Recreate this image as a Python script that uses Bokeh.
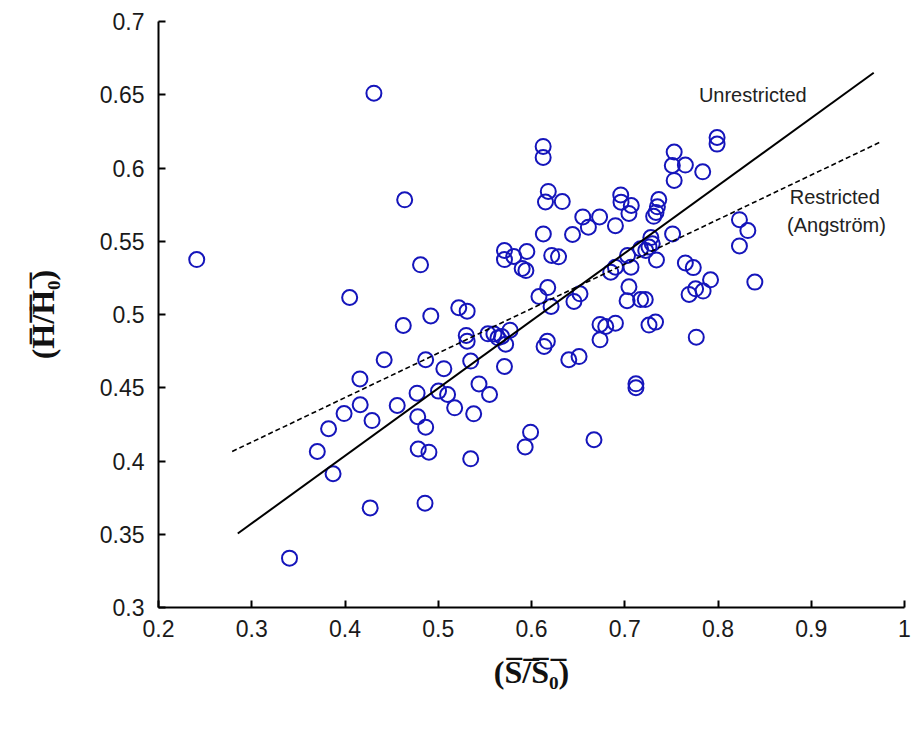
from bokeh.plotting import figure
from bokeh.models import FixedTicker, Range1d
from bokeh.core.properties import value
from bokeh.embed import file_html
from bokeh.resources import INLINE

# Monthly relative sunshine duration (S/S0) vs clearness index (H/H0)
s_vals = [
    0.241, 0.431, 0.464, 0.481, 0.405, 0.492, 0.522, 0.531, 0.4625,
    0.571, 0.571, 0.581, 0.595, 0.590, 0.594,
    0.6125, 0.6125, 0.618, 0.615, 0.633, 0.6127, 0.644, 0.655, 0.661,
    0.673, 0.690, 0.6957, 0.696, 0.707, 0.7045,
    0.7365, 0.735, 0.7335, 0.731,
    0.753, 0.751, 0.765, 0.753, 0.7836, 0.799, 0.799, 0.7513,
    0.823, 0.832, 0.823, 0.8395,
    0.728, 0.7295, 0.726, 0.734, 0.765, 0.7735, 0.703, 0.7067, 0.690, 0.685,
    0.717, 0.7225, 0.6217, 0.629, 0.6174, 0.608, 0.621, 0.652, 0.6455,
    0.7045, 0.7025, 0.717, 0.722, 0.792, 0.776, 0.784, 0.769,
    0.6735, 0.6796, 0.690, 0.6735, 0.726, 0.733, 0.7767,
    0.617, 0.6135, 0.640, 0.651, 0.712, 0.712, 0.667,
    0.530, 0.531, 0.5533, 0.5597, 0.564, 0.568, 0.5723, 0.577, 0.571,
    0.5348, 0.506, 0.4865, 0.442, 0.416, 0.4773, 0.5003, 0.510, 0.5437,
    0.555, 0.5176, 0.538, 0.456, 0.4163, 0.399, 0.429, 0.478, 0.4865,
    0.3824, 0.599, 0.5932, 0.4785, 0.490, 0.5348, 0.3703, 0.3872, 0.427,
    0.4858, 0.3405,
]
h_vals = [
    0.5375, 0.6511, 0.5783, 0.5339, 0.5116, 0.4990, 0.5046, 0.5023, 0.4925,
    0.5437, 0.5375, 0.5396, 0.5430, 0.5314, 0.5300,
    0.6147, 0.6072, 0.5840, 0.5768, 0.5771, 0.5550, 0.5546, 0.5666, 0.5596,
    0.5666, 0.5606, 0.5816, 0.5767, 0.5744, 0.5690,
    0.5785, 0.5735, 0.5697, 0.5670,
    0.6109, 0.6017, 0.6020, 0.5915, 0.5974, 0.6208, 0.6163, 0.5550,
    0.5647, 0.5573, 0.5468, 0.5221,
    0.5525, 0.5483, 0.5460, 0.5372, 0.5352, 0.5320, 0.5403, 0.5323, 0.5323, 0.5289,
    0.5448, 0.5437, 0.5403, 0.5394, 0.5184, 0.5123, 0.5055, 0.5141, 0.5089,
    0.5189, 0.5094, 0.5102, 0.5102, 0.5237, 0.5175, 0.5160, 0.5137,
    0.4932, 0.4918, 0.4941, 0.4827, 0.4928, 0.4948, 0.4845,
    0.4817, 0.4782, 0.4691, 0.4713, 0.4527, 0.4500, 0.4145,
    0.4857, 0.4818, 0.4868, 0.4867, 0.4841, 0.4850, 0.4797, 0.4893, 0.4645,
    0.4682, 0.4630, 0.4691, 0.4691, 0.4560, 0.4463, 0.4477, 0.4454, 0.4526,
    0.4454, 0.4363, 0.4322, 0.4379, 0.4384, 0.4324, 0.4276, 0.4302, 0.4231,
    0.4220, 0.4197, 0.4096, 0.4082, 0.4060, 0.4015, 0.4065, 0.3913, 0.3680,
    0.3712, 0.3337,
]

# Fitted regression lines (end points)
unrestricted_x = [0.285, 0.967]
unrestricted_y = [0.3505, 0.665]
restricted_x = [0.279, 0.975]
restricted_y = [0.4065, 0.618]

x_ticks = [0.2, 0.3, 0.4, 0.5, 0.6, 0.7, 0.8, 0.9, 1.0]
x_tick_labels = ["0.2", "0.3", "0.4", "0.5", "0.6", "0.7", "0.8", "0.9", "1"]
y_ticks = [0.3, 0.35, 0.4, 0.45, 0.5, 0.55, 0.6, 0.65, 0.7]
y_tick_labels = ["0.3", "0.35", "0.4", "0.45", "0.5", "0.55", "0.6", "0.65", "0.7"]

p = figure(
    frame_width=746, frame_height=586,
    min_border_left=158, min_border_right=18,
    min_border_top=21, min_border_bottom=124,
    x_range=Range1d(0.2, 1.0), y_range=Range1d(0.3, 0.7),
    output_backend="svg", toolbar_location=None,
)
p.outline_line_color = None
p.xgrid.visible = False
p.ygrid.visible = False
p.background_fill_color = "white"
p.border_fill_color = "white"

p.scatter(s_vals, h_vals, marker="circle", size=15, fill_color=None,
          line_color="#1515bb", line_width=2)

p.line(unrestricted_x, unrestricted_y, line_color="black", line_width=2)
p.line(restricted_x, restricted_y, line_color="black", line_width=1.6,
       line_dash="5 3")

p.text(x=[0.7795], y=[0.6495], text=["Unrestricted"],
       text_font=value("Liberation Sans"), text_font_size="20px",
       text_color="#222222", text_baseline="middle", text_align="left")
p.text(x=[0.877, 0.874], y=[0.5805, 0.5614], text=["Restricted", "(Angström)"],
       text_font=value("Liberation Sans"), text_font_size="20px",
       text_color="#222222", text_baseline="middle", text_align="left")

for ax, ticks, labels in ((p.xaxis[0], x_ticks, x_tick_labels),
                          (p.yaxis[0], y_ticks, y_tick_labels)):
    ax.ticker = FixedTicker(ticks=ticks)
    ax.major_label_overrides = {t: l for t, l in zip(ticks, labels)}
    ax.minor_tick_line_color = None
    ax.major_tick_in = 7
    ax.major_tick_out = 0
    ax.major_tick_line_width = 2
    ax.axis_line_width = 2
    ax.axis_line_color = "black"
    ax.major_tick_line_color = "black"
    ax.major_label_text_font = "Liberation Sans"
    ax.major_label_text_font_size = "23px"
    ax.major_label_text_color = "#1a1a1a"
    ax.axis_label_text_font = "Liberation Serif"
    ax.axis_label_text_font_style = "bold"
    ax.axis_label_text_font_size = "32px"
    ax.axis_label_text_color = "#111111"

p.xaxis[0].axis_label = "(S\u0305/\u0305S\u0305\u2080\u0305)"
p.yaxis[0].axis_label = "(H\u0305/\u0305H\u0305\u2080\u0305)"
p.xaxis[0].major_label_standoff = 12
p.yaxis[0].major_label_standoff = 14
p.xaxis[0].axis_label_standoff = 14
p.yaxis[0].axis_label_standoff = 36

open("out.html", "w").write(file_html(p, INLINE))
